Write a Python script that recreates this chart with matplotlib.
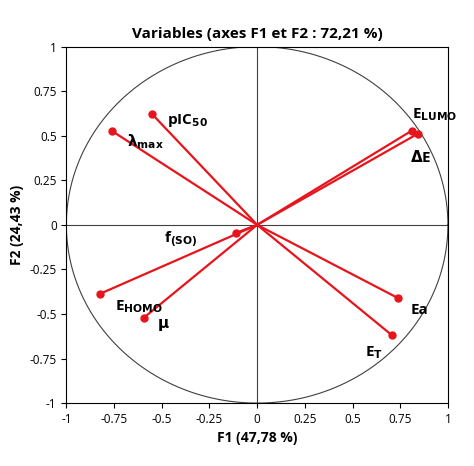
import numpy as np
import matplotlib
matplotlib.use("Agg")
import matplotlib.pyplot as plt

plt.rcParams["font.family"] = ["Open Sans", "DejaVu Sans"]

# ── Data ─────────────────────────────────────────
labels = [r"pIC$_{\mathbf{50}}$", r"$\mathbf{\lambda}_{\mathbf{max}}$", r"E$_{\mathbf{LUMO}}$",
          r"$\mathbf{\Delta}$E", r"f$_{\mathbf{(SO)}}$", r"E$_{\mathbf{HOMO}}$",
          r"$\mathbf{\mu}$", "Ea", r"E$_{\mathbf{T}}$"]
f1 = [-0.553, -0.763, 0.810, 0.842, -0.110, -0.826, -0.595, 0.737, 0.705]
f2 = [0.624, 0.528, 0.528, 0.511, -0.045, -0.388, -0.522, -0.410, -0.618]
label_offsets = [(0.08, -0.04), (0.08, -0.06), (0.0, 0.09), (-0.04, -0.13),
                 (-0.38, -0.04), (0.08, -0.07), (0.07, -0.04), (0.07, -0.07), (-0.14, -0.1)]

fig, ax = plt.subplots(figsize=(4.74, 4.66), dpi=100)
fig.subplots_adjust(left=0.14, right=0.945, top=0.9, bottom=0.135)

theta = np.linspace(0, 2 * np.pi, 400)
ax.plot(np.cos(theta), np.sin(theta), color="#404040", lw=0.8)
ax.axhline(0, color="#404040", lw=0.8)
ax.axvline(0, color="#404040", lw=0.8)

for x, y, lab, (dx, dy) in zip(f1, f2, labels, label_offsets):
    ax.plot([0, x], [0, y], color="#e8141b", lw=1.6)
    ax.plot(x, y, "o", color="#e8141b", ms=5)
    ax.text(x + dx, y + dy, lab, fontsize=11, fontweight="bold", va="center")

ax.set_xlim(-1, 1)
ax.set_ylim(-1, 1)
ticks = [-1, -0.75, -0.5, -0.25, 0, 0.25, 0.5, 0.75, 1]
ax.set_xticks(ticks)
ax.set_yticks(ticks)
ax.set_xticklabels([f"{t:g}" for t in ticks], fontsize=8.5)
ax.set_yticklabels([f"{t:g}" for t in ticks], fontsize=8.5)
ax.set_xlabel("F1 (47,78 %)", fontsize=10, fontweight="bold")
ax.set_ylabel("F2 (24,43 %)", fontsize=10, fontweight="bold")
ax.set_title("Variables (axes F1 et F2 : 72,21 %)", fontsize=11, fontweight="bold")

plt.savefig("out.png", dpi=100)
